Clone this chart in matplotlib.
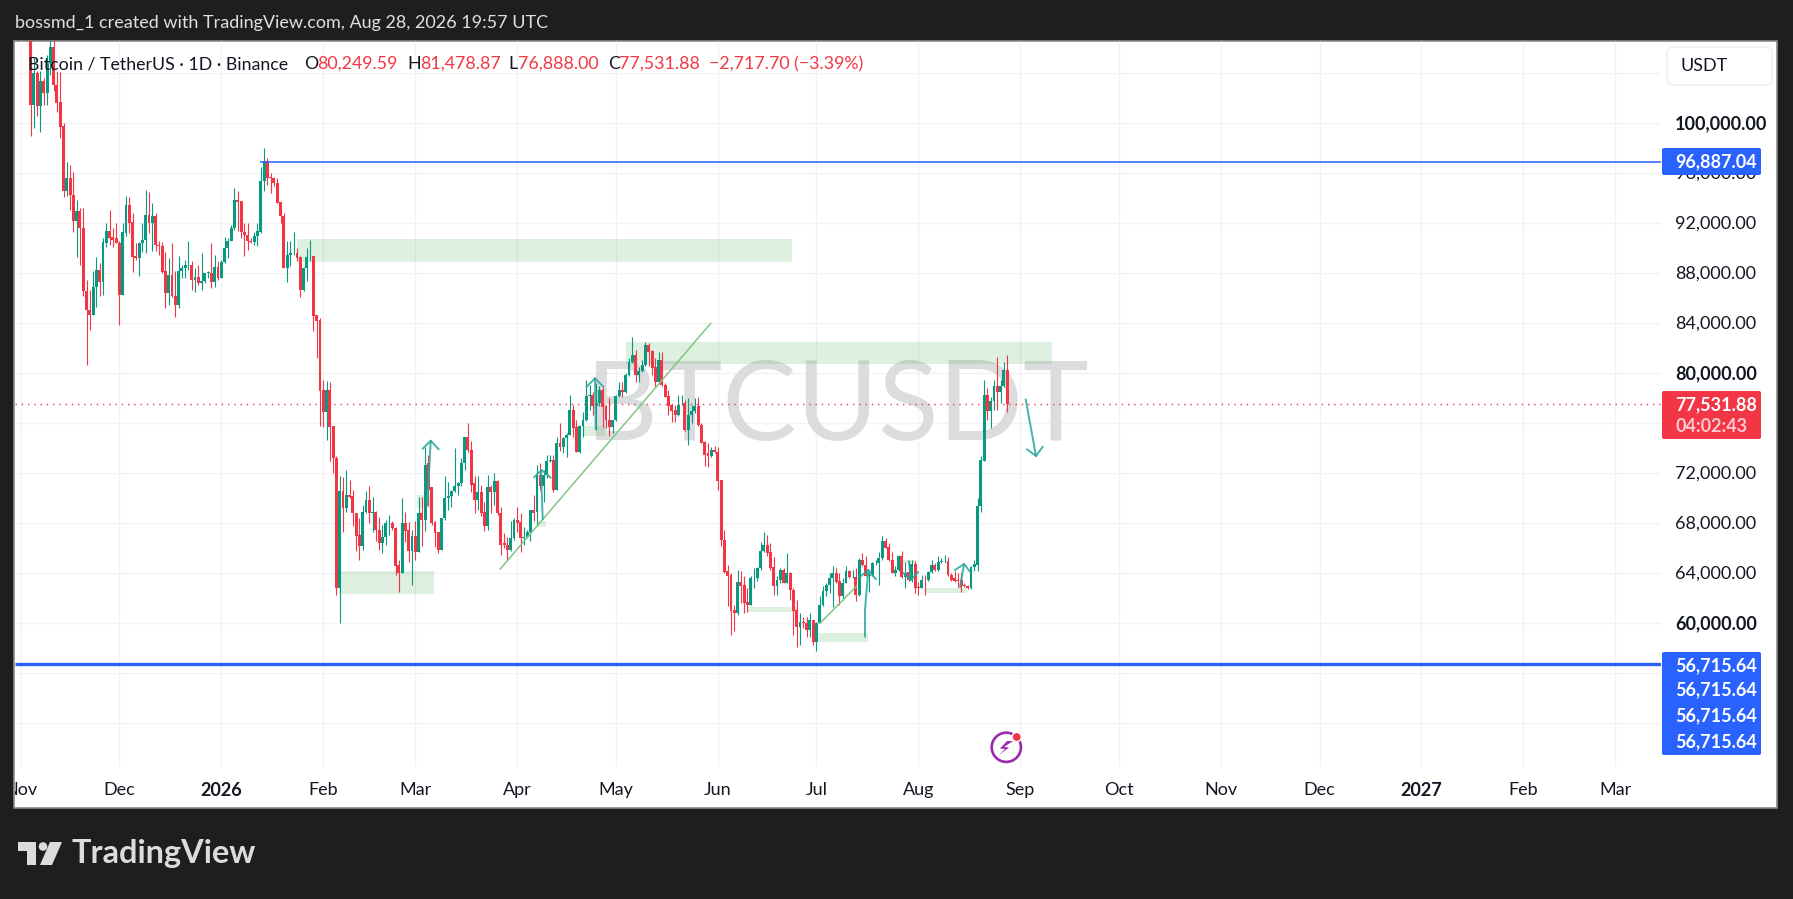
import numpy as np
import matplotlib
matplotlib.use("Agg")
import matplotlib.pyplot as plt
from matplotlib.patches import Rectangle, FancyBboxPatch, Circle, Polygon

plt.rcParams["font.family"] = ["Lato", "DejaVu Sans"]

W, H = 1793, 899

# ==========================
# data: daily candles, prices in thousands of USDT, ending Aug 28 2026
# ==========================
opens = [
    106.8, 101.5, 104.0, 101.4, 103.4, 102.4, 104.8, 106.1, 103.1, 101.7,
    99.8, 94.6, 95.6, 94.3, 92.2, 93.0, 91.6, 86.6, 85.1, 84.7,
    86.9, 88.3, 87.3, 90.4, 91.4, 90.9, 90.8, 90.4, 86.3, 91.2,
    93.5, 92.1, 89.4, 89.2, 90.4, 90.7, 92.7, 92.0, 92.6, 90.3,
    90.2, 88.2, 86.4, 87.9, 86.2, 85.5, 88.2, 88.4, 88.7, 88.7,
    87.5, 87.7, 87.2, 87.4, 88.0, 88.0, 87.3, 88.5, 87.6, 88.9,
    90.0, 90.6, 91.6, 93.9, 93.8, 91.3, 91.1, 90.6, 90.5, 91.0,
    91.3, 95.4, 97.0, 95.7, 95.6, 95.2, 93.7, 92.6, 88.4, 89.5,
    89.6, 89.6, 89.3, 86.7, 88.4, 89.3, 89.4, 84.7, 84.3,
    78.7, 76.9, 78.7, 75.8, 73.2, 62.8, 70.6, 69.2, 70.3, 70.2,
    68.8, 67.1, 66.2, 68.9, 69.9, 68.8, 68.9, 67.5, 66.45, 66.9,
    68.0, 68.0, 67.6, 64.7, 64.0, 68.0, 67.5, 65.8, 67.0, 65.7,
    68.8, 68.3, 72.8, 70.9, 68.1, 67.3, 65.9, 68.4, 70.0, 70.2,
    70.6, 71.0, 71.2, 72.8, 74.9, 73.9, 71.2, 69.9, 70.5, 68.9,
    67.8, 70.9, 70.5, 71.4, 68.8, 66.4, 66.3, 65.9, 66.8, 68.3,
    68.1, 66.8, 66.9, 67.3, 69.1, 68.9, 71.9, 71.0, 71.9,
    73.0, 73.1, 70.7, 74.4, 74.1, 74.8, 75.1, 77.1, 75.7, 73.7,
    75.8, 76.3, 78.2, 78.3, 77.4, 77.6, 78.7, 77.4, 76.3, 75.7,
    76.3, 78.2, 78.7, 78.5, 79.9, 80.9, 81.5, 79.9, 80.2, 80.7,
    82.3, 81.8, 80.5, 79.3, 81.1, 79.1, 78.2, 77.5, 77.1, 76.7,
    77.6, 77.6, 75.5, 76.7, 77.0, 77.4, 75.9, 74.5, 73.6, 73.4,
    73.9, 73.7, 71.5,
    66.7, 64.2, 63.9, 61.1, 60.8, 63.3, 63.1, 61.7, 61.5, 63.6,
    63.6, 64.4, 65.8, 66.3, 65.7, 64.5, 63.0, 63.5, 64.3, 63.25,
    64.0, 62.7, 61.1, 59.7, 60.1, 60.05, 59.5, 60.3, 58.5, 60.0,
    61.5, 62.6, 63.1, 63.6, 64.05, 63.4, 62.2, 63.2, 64.2, 63.7,
    63.7, 62.3, 65.1, 64.7, 63.8, 63.9, 64.8, 64.8, 65.2, 66.6,
    66.1, 65.1, 64.0, 64.3, 65.4, 63.7, 64.1, 63.5, 64.75, 62.9,
    62.85, 63.5, 63.45, 64.1, 64.7, 64.3, 64.9, 65.0, 65.0, 63.9,
    63.6, 63.5, 63.5, 63.05, 63.0, 62.8, 64.5, 64.7, 69.4, 73.0,
    78.3, 77.0, 77.8, 79.0, 78.5, 79.0, 80.24959,
]
closes = [
    101.5, 104.0, 101.4, 103.4, 102.4, 104.8, 106.1, 103.1, 101.6, 99.7,
    94.6, 95.6, 94.3, 92.2, 93.0, 91.6, 86.6, 85.1, 84.7, 86.9,
    88.3, 87.3, 90.5, 91.4, 90.8, 90.7, 90.4, 86.3, 91.3, 93.5,
    92.0, 89.3, 89.2, 90.4, 90.7, 92.7, 92.0, 92.6, 90.3, 90.2,
    88.1, 86.4, 87.9, 86.2, 85.5, 88.2, 88.4, 88.7, 88.7, 87.5,
    87.7, 87.2, 87.4, 88.0, 88.1, 87.3, 88.5, 87.6, 88.9, 90.0,
    90.6, 91.6, 93.9, 93.7, 91.3, 91.1, 90.6, 90.5, 91.0, 91.4,
    95.4, 97.0, 95.6, 95.6, 95.2, 93.6, 92.6, 88.4, 89.5, 89.6,
    89.6, 89.2, 86.7, 88.4, 89.3, 89.3, 84.6, 84.2, 78.6,
    76.9, 78.7, 75.7, 73.2, 62.8, 70.6, 69.2, 70.3, 70.1, 68.8,
    67.0, 66.2, 68.9, 69.9, 68.8, 68.9, 67.5, 66.45, 66.9, 68.0,
    68.0, 67.6, 64.6, 64.0, 68.0, 67.4, 65.8, 67.0, 65.7, 68.8,
    68.3, 72.7, 70.7, 68.0, 67.2, 65.9, 68.4, 70.0, 70.2, 70.6,
    71.0, 71.2, 72.8, 74.9, 73.9, 71.1, 69.9, 70.5, 68.8, 67.8,
    70.9, 70.5, 71.4, 68.8, 66.3, 66.3, 65.9, 66.8, 68.3, 68.0,
    66.8, 66.9, 67.3, 69.1, 68.85, 71.9, 71.0, 71.9, 73.0,
    73.1, 70.7, 74.4, 74.1, 74.8, 75.1, 77.1, 75.6, 73.7, 75.8,
    76.3, 78.2, 78.3, 77.4, 77.6, 78.7, 77.3, 76.3, 75.7, 76.3,
    78.2, 78.7, 78.5, 79.9, 80.9, 81.5, 79.9, 80.2, 80.7, 82.3,
    81.7, 80.4, 79.3, 81.1, 79.1, 78.1, 77.4, 77.0, 76.7, 77.5,
    77.6, 75.5, 76.7, 77.0, 77.4, 75.9, 74.4, 73.5, 73.4, 73.9,
    73.7, 71.4, 66.7,
    64.1, 63.8, 61.0, 60.8, 63.3, 63.0, 61.6, 61.5, 63.6, 63.6,
    64.4, 65.8, 66.3, 65.6, 64.4, 63.0, 63.5, 64.3, 63.25, 64.0,
    62.7, 61.0, 59.7, 60.1, 60.0, 59.5, 60.3, 58.5, 60.0, 61.5,
    62.6, 63.1, 63.6, 64.05, 63.3, 62.2, 63.2, 64.2, 63.7, 63.7,
    62.3, 65.1, 64.7, 63.8, 63.9, 64.8, 64.8, 65.2, 66.6, 66.05,
    65.05, 64.0, 64.3, 65.4, 63.7, 64.05, 63.5, 64.75, 62.8, 62.85,
    63.5, 63.45, 64.1, 64.7, 64.3, 64.9, 65.0, 65.0, 63.9, 63.5,
    63.4, 63.4, 63.0, 63.0, 62.8, 64.5, 64.75, 69.4, 73.1, 78.3,
    77.0, 77.8, 79.0, 78.5, 79.0, 80.25, 77.53188,
]
highs = [
    108.0, 105.2, 104.2, 104.2, 103.6, 105.5, 107.0, 107.0, 104.2, 104.1,
    100.0, 96.9, 96.7, 96.1, 93.9, 93.2, 93.2, 87.5, 86.7, 88.2,
    89.3, 88.8, 90.8, 92.0, 93.1, 91.6, 92.0, 90.6, 92.0, 94.2,
    94.1, 92.8, 90.4, 90.5, 92.0, 94.7, 94.5, 93.6, 92.8, 90.6,
    90.5, 89.7, 89.2, 90.4, 88.2, 89.4, 88.7, 89.1, 90.6, 89.0,
    88.4, 88.7, 89.6, 88.0, 88.2, 90.4, 89.5, 89.0, 89.1, 90.9,
    90.8, 91.9, 94.8, 94.6, 93.8, 92.0, 92.0, 90.8, 91.3, 92.0,
    96.5, 98.0, 97.2, 96.0, 95.7, 95.6, 93.7, 92.8, 90.6, 90.6,
    91.3, 90.0, 89.4, 88.5, 90.0, 90.7, 89.4, 84.7, 84.4,
    79.5, 79.4, 79.3, 75.8, 73.4, 71.8, 71.7, 72.3, 71.5, 70.7,
    68.8, 68.4, 69.5, 70.6, 71.0, 70.1, 69.0, 68.5, 67.9, 68.3,
    68.7, 68.2, 67.7, 65.1, 70.0, 68.9, 68.1, 67.5, 68.2, 70.1,
    70.1, 74.1, 73.5, 70.9, 68.2, 67.3, 68.4, 71.8, 71.3, 70.7,
    74.0, 71.3, 73.2, 74.9, 76.0, 74.6, 71.8, 71.8, 71.1, 69.7,
    71.9, 71.1, 72.05, 71.5, 69.3, 67.2, 66.9, 68.2, 68.4, 69.3,
    68.8, 67.7, 67.5, 69.1, 70.3, 72.7, 72.8, 72.3, 73.5,
    73.5, 73.5, 74.9, 76.0, 74.9, 75.2, 78.3, 77.5, 76.3, 75.9,
    76.9, 79.5, 79.1, 78.5, 79.2, 79.0, 78.9, 77.5, 78.0, 76.3,
    78.3, 79.3, 79.3, 80.0, 81.2, 82.9, 81.9, 80.5, 81.1, 82.5,
    82.4, 81.9, 81.2, 81.7, 81.7, 79.2, 78.7, 77.5, 77.5, 78.3,
    78.3, 77.9, 78.0, 77.5, 78.0, 78.1, 76.0, 74.6, 74.4, 74.1,
    74.2, 74.1, 71.5,
    67.5, 64.7, 64.0, 61.5, 64.3, 64.2, 63.8, 62.8, 63.8, 64.4,
    64.5, 66.5, 67.3, 67.1, 66.4, 65.3, 63.8, 64.4, 64.4, 65.6,
    64.1, 62.8, 61.9, 60.8, 60.5, 60.5, 60.8, 60.3, 60.1, 62.2,
    63.0, 63.2, 64.0, 64.6, 64.4, 64.0, 63.6, 64.6, 64.3, 64.3,
    64.4, 65.2, 65.6, 65.4, 64.1, 64.9, 65.1, 65.7, 67.0, 66.8,
    66.45, 65.7, 64.6, 65.5, 65.8, 64.9, 65.0, 65.1, 65.0, 63.3,
    63.9, 63.9, 64.2, 65.1, 64.8, 65.4, 65.2, 65.5, 65.3, 64.0,
    64.2, 64.0, 64.0, 63.2, 63.1, 64.6, 65.1, 70.0, 73.4, 79.5,
    78.8, 78.1, 79.5, 81.3, 79.5, 80.9, 81.47887,
]
lows = [
    99.0, 99.6, 100.6, 99.3, 101.5, 101.5, 103.9, 102.6, 100.9, 98.8,
    94.1, 94.2, 93.1, 91.3, 89.3, 88.7, 86.2, 80.7, 83.5, 84.7,
    85.3, 86.2, 86.3, 90.1, 90.3, 90.1, 90.4, 83.9, 86.3, 91.0,
    91.2, 88.1, 89.1, 87.8, 89.7, 89.6, 91.2, 89.8, 89.8, 89.5,
    88.0, 85.2, 85.5, 86.1, 84.5, 85.2, 87.6, 87.6, 88.3, 86.7,
    86.5, 87.1, 86.7, 87.2, 87.6, 86.8, 86.9, 87.5, 87.6, 88.8,
    89.2, 90.6, 91.5, 91.4, 90.8, 89.4, 89.9, 90.4, 90.3, 90.2,
    91.2, 94.6, 95.1, 94.4, 95.0, 93.6, 92.0, 88.4, 87.3, 88.6,
    89.5, 89.0, 86.1, 86.6, 87.4, 89.0, 83.4, 81.2, 75.8,
    75.7, 74.7, 73.0, 72.0, 62.3, 60.0, 67.3, 68.9, 70.0, 67.8,
    65.8, 65.1, 65.9, 68.8, 68.0, 67.3, 66.6, 65.9, 65.6, 66.3,
    67.1, 67.5, 63.9, 62.5, 64.0, 66.5, 64.9, 63.1, 65.1, 65.7,
    66.2, 67.4, 69.4, 67.9, 66.1, 65.6, 65.9, 68.3, 69.1, 69.3,
    70.5, 70.3, 71.0, 72.3, 73.7, 70.5, 68.8, 69.1, 68.6, 67.4,
    67.5, 68.8, 69.5, 68.7, 65.5, 66.0, 65.0, 65.8, 66.7, 67.3,
    65.7, 66.3, 66.8, 66.6, 68.2, 67.8, 70.7, 69.7, 71.6,
    72.9, 70.5, 70.7, 73.8, 73.6, 73.3, 75.1, 74.9, 73.7, 73.6,
    74.9, 76.2, 77.1, 76.7, 75.5, 77.4, 75.7, 75.6, 75.0, 75.2,
    76.2, 78.1, 78.1, 78.4, 79.8, 80.8, 79.3, 79.3, 80.1, 80.6,
    80.6, 79.9, 78.9, 79.2, 79.0, 78.1, 76.7, 76.1, 76.1, 76.6,
    77.5, 75.4, 74.3, 76.0, 76.8, 75.8, 74.4, 72.6, 72.5, 73.3,
    73.6, 70.7, 66.2,
    64.0, 61.4, 59.1, 59.4, 60.7, 61.6, 60.8, 60.9, 61.5, 62.8,
    63.4, 64.3, 65.7, 65.4, 64.3, 62.3, 62.3, 63.2, 63.2, 63.2,
    61.9, 59.1, 58.1, 58.3, 59.6, 58.9, 58.9, 58.3, 57.8, 60.0,
    61.4, 62.2, 62.4, 61.3, 63.2, 61.5, 61.9, 63.2, 63.6, 63.6,
    61.8, 62.2, 64.6, 63.8, 62.5, 63.8, 64.7, 63.1, 65.1, 66.0,
    65.0, 64.0, 63.8, 64.2, 63.6, 62.8, 63.4, 63.3, 62.45, 62.3,
    62.8, 62.3, 63.4, 64.0, 64.2, 64.2, 64.85, 64.8, 63.8, 63.4,
    63.3, 62.9, 62.5, 62.9, 62.75, 62.75, 64.15, 64.2, 68.9, 73.0,
    76.3, 75.6, 77.1, 77.1, 77.6, 78.9, 76.888,
]

# x values are days since 2025-12-01
last_day = 270
month_days = [-30, 0, 31, 62, 90, 121, 151, 182, 212, 243, 274, 304, 335, 365, 396, 427, 455]
month_labels = ["Nov", "Dec", "2026", "Feb", "Mar", "Apr", "May", "Jun", "Jul", "Aug",
                "Sep", "Oct", "Nov", "Dec", "2027", "Feb", "Mar"]
price_grid = [52, 56, 60, 64, 68, 72, 76, 80, 84, 88, 92, 96, 100, 104]
price_labels = [60, 64, 68, 72, 80, 84, 88, 92, 96, 100]
bold_prices = [60, 80, 100]

last_price = 77.53188
high_level = 96.88704
low_level = 56.71564

# drawn zones: day start, day end, price low, price high
zone_day0 = [54.0, 154.2, 66.8, 126.9, 141.0, 191.2, 212.5, 245.0, 238.3, 90.5]
zone_day1 = [204.6, 283.7, 95.7, 129.7, 147.7, 206.4, 227.7, 257.8, 242.6, 94.5]
zone_low = [88.93, 80.74, 62.34, 67.7, 75.0, 60.9, 58.5, 62.43, 64.8, 69.2]
zone_high = [90.74, 82.5, 64.18, 68.2, 75.8, 61.3, 59.25, 62.85, 65.07, 70.3]

# ==========================
# axes laid out in pixels
# ==========================
X0, X1, XR = 15, 1661, 1777
Y0, Y1, YB = 41, 767, 808
PX_PER_DAY = 3.288
X_DEC1 = 119.4


def axes_px(x0, y0, x1, y1, z):
    a = fig.add_axes([x0 / W, 1 - y1 / H, (x1 - x0) / W, (y1 - y0) / H], zorder=z)
    a.set_axis_off()
    return a


def day_of(x):
    return (x - X_DEC1) / PX_PER_DAY


def price_of(y):
    return 80 - (y - 373.3) * 0.08


fig = plt.figure(figsize=(W / 100, H / 100), dpi=100, facecolor="#1e1e1e")

bg = axes_px(0, 0, W, H, 0)
bg.set_xlim(0, W)
bg.set_ylim(H, 0)
bg.add_patch(Rectangle((14, 41), XR - 14, YB - 41, fc="white", ec="#8a8a8a", lw=1.2))

ax = axes_px(X0, Y0, X1, Y1, 1)
ax.set_xlim(day_of(X0), day_of(X1))
ax.set_ylim(price_of(Y1), price_of(Y0))

scale = axes_px(X1, Y0, XR, Y1, 2)
scale.set_xlim(X1, XR)
scale.set_ylim(price_of(Y1), price_of(Y0))

time_ax = axes_px(X0, Y1, X1, YB - 1, 2)
time_ax.set_xlim(day_of(X0), day_of(X1))
time_ax.set_ylim(1, 0)

top = axes_px(0, 0, W, H, 5)
top.set_xlim(0, W)
top.set_ylim(H, 0)

# grid
ax.hlines(price_grid, day_of(X0), day_of(X1), color="#f1f2f4", lw=1.0, zorder=0)
ax.vlines(month_days, price_of(Y1), price_of(Y0), color="#f0f1f3", lw=0.9, zorder=0)

# watermark sits under everything else
ax.text(0.5, 0.493, "BTCUSDT", transform=ax.transAxes, ha="center", va="center",
        fontsize=80, color="#dbdcde", zorder=1)

# zones
for d0, d1, lo, hi in zip(zone_day0, zone_day1, zone_low, zone_high):
    ax.add_patch(Rectangle((d0, lo), d1 - d0, hi - lo, fc="#4caf50", alpha=0.18, lw=0, zorder=2))

# candles
o = np.array(opens)
c = np.array(closes)
days = last_day - (len(o) - 1) + np.arange(len(o))
up = c >= o
colors = np.where(up, "#089981", "#f23645")
ax.vlines(days, lows, highs, colors=colors, lw=0.8, zorder=3)
ax.bar(days, np.abs(c - o), bottom=np.minimum(o, c), width=0.88, color=colors, lw=0, zorder=4)

# price lines
ax.hlines(high_level, day_of(259.5), day_of(X1), color="#2962ff", lw=1.1, zorder=5)
ax.hlines(low_level, day_of(X0), day_of(X1), color="#2962ff", lw=2.4, zorder=5)
ax.hlines(last_price, day_of(X0), day_of(X1), color="#f23645", lw=1.0,
          linestyles=(0, (1, 3.5)), zorder=5)

# trend lines
ax.plot([day_of(500.2), day_of(710.5)], [64.34, 83.98], color="#81c784", lw=1.1, zorder=5)
ax.plot([day_of(820), day_of(856.7)], [60.0, 62.98], color="#81c784", lw=1.1, zorder=5)

# arrows, stem then head, px positions as drawn on the chart
arrow_c = "#26a69a"
arrow_stems = [
    [(427.3, 505), (430.7, 440.7)],
    [(542.7, 519.3), (541, 470)],
    [(595.7, 429.3), (595, 378.3)],
    [(865, 636.7), (865, 610), (868.3, 570)],
    [(909, 561), (910.7, 580)],
    [(960, 587.3), (964, 564)],
    [(1025.7, 399.3), (1036, 456)],
]
arrow_heads = [
    [(422.7, 448.7), (430.7, 440.7), (438.7, 449.3)],
    [(534, 477.3), (541.7, 470), (550.7, 477.7)],
    [(586.7, 386.7), (595, 378.3), (603.3, 386.7)],
    [(858.3, 578.3), (868.3, 570), (876, 579.3)],
    [(903.3, 573), (910.7, 580), (918.3, 572)],
    [(955, 570), (964, 564), (970, 571.7)],
    [(1027, 449.3), (1036, 456), (1042.7, 446.7)],
]
for stem, head in zip(arrow_stems, arrow_heads):
    for pts in (stem, head):
        ax.plot([day_of(p[0]) for p in pts], [price_of(p[1]) for p in pts],
                color=arrow_c, lw=1.4, alpha=0.85, zorder=6, solid_capstyle="round")

# price scale
FS = 13
for p in price_labels:
    bold = p in bold_prices
    scale.text(1675, p, f"{p * 1000:,}.00", va="center", ha="left", color="#131722",
               fontsize=FS, fontweight="bold" if bold else "normal", zorder=1)

# time scale
for d, lab in zip(month_days, month_labels):
    time_ax.text(d, 0.58, lab, ha="center", va="center", color="#131722", fontsize=FS,
                 fontweight="bold" if lab in ("2026", "2027") else "normal", clip_on=True)

# tags on the scale
tag_kw = dict(boxstyle="round,pad=0,rounding_size=2", lw=0, zorder=3)
top.add_patch(FancyBboxPatch((1662, 148), 99, 27, fc="#2962ff", **tag_kw))
top.add_patch(FancyBboxPatch((1662, 391), 99, 48, fc="#f23645", **tag_kw))
top.add_patch(FancyBboxPatch((1662, 652), 99, 103, fc="#2962ff", **tag_kw))
tag_font = dict(ha="left", va="center", fontsize=FS, color="white", zorder=4)
top.text(1675, 161.5, "96,887.04", **tag_font, fontweight="bold")
top.text(1675, 404.5, "77,531.88", **tag_font, fontweight="bold")
top.text(1675, 426, "04:02:43", ha="left", va="center", fontsize=FS, color="#fccbd0",
         fontweight="bold", zorder=4)
for y in (666, 690, 716, 741.5):
    top.text(1675, y, "56,715.64", **tag_font, fontweight="bold")

# currency button
top.add_patch(FancyBboxPatch((1667, 47), 105, 38, boxstyle="round,pad=0,rounding_size=6",
                             fc="white", ec="#f0f1f3", lw=1.2, zorder=3))
top.text(1681, 66, "USDT", ha="left", va="center", fontsize=FS, color="#131722", zorder=4)

# legend line
dark = "#131722"
red = "#f23645"
legend_parts = [
    (28, "Bitcoin / TetherUS · 1D · Binance", dark),
    (304, "O", dark), (317, "80,249.59", red),
    (407, "H", dark), (420, "81,478.87", red),
    (508, "L", dark), (518, "76,888.00", red),
    (608, "C", dark), (619, "77,531.88", red),
    (709, "\u22122,717.70 (\u22123.39%)", red),
]
for x, s, col in legend_parts:
    top.text(x, 64, s, ha="left", va="center", fontsize=12.8, color=col, zorder=4)

# header and footer
top.text(15, 23, "bossmd_1 created with TradingView.com, Aug 28, 2026 19:57 UTC",
         ha="left", va="center", fontsize=13, color="#e0e0e0", zorder=4)
top.text(72, 854, "TradingView", ha="left", va="center", fontsize=23.4, fontweight="bold",
         color="#dcdcdc", zorder=4)
logo = "#dcdcdc"
top.add_patch(Polygon([(18, 842), (36, 842), (36, 865), (27, 865), (27, 851), (18, 851)], fc=logo, lw=0))
top.add_patch(Circle((43, 846.5), 4.3, fc=logo, lw=0))
top.add_patch(Polygon([(50, 842), (62, 842), (52, 865), (40, 865)], fc=logo, lw=0))

# bolt badge
purple = "#9c27b0"
top.add_patch(Circle((1006.3, 747.3), 14.6, fc="white", ec=purple, lw=1.9, zorder=4))
top.add_patch(Polygon([(1013, 741), (1004, 747), (1009, 747.5), (999, 755), (1005, 749),
                       (1000, 748.5), (1007, 741)], fc=purple, lw=0, zorder=5))
top.add_patch(Circle((1016.7, 737), 4.6, fc=red, ec="white", lw=1.0, zorder=5))

fig.savefig("out.png", dpi=100, facecolor=fig.get_facecolor())
